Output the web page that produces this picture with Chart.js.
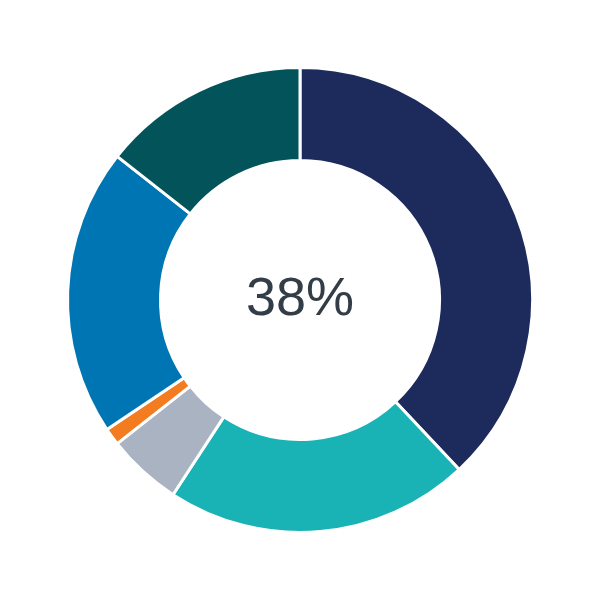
<!DOCTYPE html>
<html>
<head>
<meta charset="utf-8">
<script src="https://cdn.jsdelivr.net/npm/chart.js@4"></script>
<style>
  html, body { margin: 0; padding: 0; background: #ffffff; }
  #wrap { width: 600px; height: 600px; }
</style>
</head>
<body>
<div id="wrap"><canvas id="chart"></canvas></div>
<script>
const labels = ["Segment A", "Segment B", "Segment C", "Segment D", "Segment E", "Segment F"];
const values = [38, 21.2, 5.2, 1.2, 20, 14.4];
const colors = ["#1c2b5b", "#1ab3b5", "#a9b3c2", "#f37b20", "#0075b4", "#03545a"];
const centerText = "38%";

const centerLabel = {
  id: "centerLabel",
  afterDraw(chart) {
    const ctx = chart.ctx;
    const arc = chart.getDatasetMeta(0).data[0];
    ctx.save();
    ctx.font = "54px 'Liberation Sans', Arial, sans-serif";
    ctx.fillStyle = "#333d47";
    ctx.textAlign = "center";
    ctx.textBaseline = "middle";
    ctx.fillText(centerText, arc.x, arc.y);
    ctx.restore();
  }
};

new Chart(document.getElementById("chart"), {
  type: "doughnut",
  data: {
    labels: labels,
    datasets: [{
      data: values,
      backgroundColor: colors,
      borderColor: "#ffffff",
      borderWidth: 3,
      hoverOffset: 0
    }]
  },
  options: {
    responsive: true,
    maintainAspectRatio: false,
    animation: false,
    cutout: "60%",
    layout: { padding: 66 },
    plugins: {
      legend: { display: false },
      tooltip: { enabled: false }
    }
  },
  plugins: [centerLabel]
});
</script>
</body>
</html>
